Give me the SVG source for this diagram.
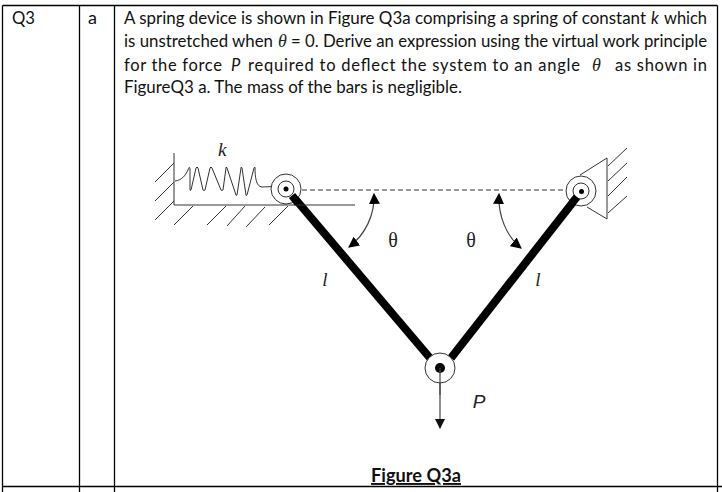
<svg xmlns="http://www.w3.org/2000/svg" width="722" height="492" viewBox="0 0 722 492">
<style>
.t{font-family:"Lato","Carlito","Liberation Sans",sans-serif;font-size:16.5px;fill:#111}
.ti{font-style:italic}
.m{font-family:"Liberation Serif",serif;font-style:italic;fill:#222}
.th{font-family:"Liberation Serif",serif;font-size:20px;fill:#222}
.tab{stroke:#000;stroke-width:1.3;fill:none}
.thin{stroke:#333;stroke-width:1;fill:none}
.bar{stroke:#000;stroke-width:8;fill:none}
.ring{stroke:#333;stroke-width:1;fill:#fff}
.curve{stroke:#444;stroke-width:1.2;fill:none;marker-start:url(#ah);marker-end:url(#ah)}
</style>
<defs>
<marker id="ah" viewBox="0 0 10 10" refX="9" refY="5" markerWidth="11" markerHeight="11" markerUnits="userSpaceOnUse" orient="auto-start-reverse"><path d="M0 0L10 5L0 10Z" fill="#000"/></marker>
<marker id="ap" viewBox="0 0 10 10" refX="9" refY="5" markerWidth="10" markerHeight="10" markerUnits="userSpaceOnUse" orient="auto"><path d="M0 0L10 5L0 10Z" fill="#111"/></marker>
</defs>
<rect width="722" height="492" fill="#fff"/>
<g id="table">
<path class="tab" d="M2.5 5.5H717.5M2.5 5.500V492M79.500 5.500V492M114.500 5.500V492M717.500 5.500V492M2 486.500H722"/>
</g>
<g id="question-text">
<text class="t" x="12" y="24" textLength="23" lengthAdjust="spacingAndGlyphs" style="font-size:18px">Q3</text>
<text class="t" x="88" y="24" textLength="9" lengthAdjust="spacingAndGlyphs">a</text>
<text class="t" x="124" y="24" textLength="522" lengthAdjust="spacingAndGlyphs">A spring device is shown in Figure Q3a comprising a spring of constant</text>
<text class="t ti" x="651" y="24">k</text>
<text class="t" x="664" y="24" textLength="43" lengthAdjust="spacingAndGlyphs">which</text>
<text class="t" x="124" y="47" textLength="149" lengthAdjust="spacingAndGlyphs">is unstretched when</text>
<text class="m" x="278" y="47" font-size="18">θ</text>
<text class="t" x="291" y="47" textLength="416" lengthAdjust="spacingAndGlyphs">= 0. Derive an expression using the virtual work principle</text>
<text class="t" x="124" y="71" textLength="98" lengthAdjust="spacing">for the force</text>
<text class="t ti" x="231" y="71">P</text>
<text class="t" x="248" y="71" textLength="332" lengthAdjust="spacing">required to deflect the system to an angle</text>
<text class="m" x="592" y="71" font-size="18">θ</text>
<text class="t" x="615" y="71" textLength="92" lengthAdjust="spacing">as shown in</text>
<text class="t" x="124" y="93" textLength="338" lengthAdjust="spacingAndGlyphs">FigureQ3 a. The mass of the bars is negligible.</text>
</g>
<g id="connectors">
<path class="thin" stroke-dasharray="5 3" d="M302 190H566"/>
<path class="bar" d="M291 194L430 358"/>
<path class="bar" d="M577 197L451 358"/>
<path class="curve" d="M374 194C375 215 365 235 349 247"/>
<path class="curve" d="M499 194C498 215 506 236 521 248"/>
<path d="M440 368V428" stroke="#444" stroke-width="1.2" fill="none" marker-end="url(#ap)"/>
</g>
<g id="ground-left">
<path class="thin" d="M174 153V205H355"/>
<path class="thin" d="M155 182L174 163M155 201L174 182M155 220L174 201M174 225L193 206M207 225L226 206M227 226L245 206M246 227L265 207M269 225L288 206"/>
</g>
<g id="spring">
<path class="thin" d="M175 181C182 180 185 176 188 170C189 166 190 167 190 170L190 190Q190 191 191 190L196 168Q197 166 198 168L203 190Q204 191 205 190L210 168Q211 166 212 168L221 190Q222 191 223 190L226 168Q226 166 227 168L236 195Q236 196 237 195L241 168Q241 166 242 168L246 195Q246 196 247 195L254 168Q255 166 255 168C255 176 256 187 262 187L285 186"/>
<text class="m" x="218" y="156" font-size="19">k</text>
</g>
<g id="pivot-left">
<circle class="ring" cx="286" cy="189" r="15"/>
<circle class="ring" cx="286" cy="189" r="8"/>
<circle cx="286" cy="189" r="2.500" fill="#000"/>
<path class="bar" d="M292 195.500L298 203"/>
</g>
<g id="support-right">
<path class="thin" d="M580 175L607 158V219L587 207"/>
<path class="thin" d="M608 166L627 148M608 181L627 163M608 196L627 177M608 213L627 196"/>
</g>
<g id="pivot-right">
<circle class="ring" cx="581" cy="191" r="15"/>
<circle class="ring" cx="581" cy="191" r="8"/>
<circle cx="581.500" cy="191.500" r="2.500" fill="#000"/>
<path class="bar" d="M577 197L572 203"/>
</g>
<g id="pivot-bottom">
<circle class="ring" cx="440" cy="368" r="15"/>
<circle cx="440" cy="368" r="5" fill="#000"/>
<path d="M440 368V395" stroke="#444" stroke-width="1.2"/>
</g>
<g id="labels">
<text class="th" x="393" y="247" text-anchor="middle">θ</text>
<text class="th" x="471" y="247" text-anchor="middle">θ</text>
<text class="m" x="325" y="286" font-size="19" text-anchor="middle">l</text>
<text class="m" x="538" y="286" font-size="19" text-anchor="middle">l</text>
<text x="479" y="408" font-family="Liberation Sans, sans-serif" font-style="italic" font-size="19" fill="#222" text-anchor="middle">P</text>
<text class="t" x="371" y="482" textLength="90" lengthAdjust="spacingAndGlyphs" text-decoration="underline" style="font-size:19px;font-weight:700">Figure Q3a</text>
</g>
</svg>
